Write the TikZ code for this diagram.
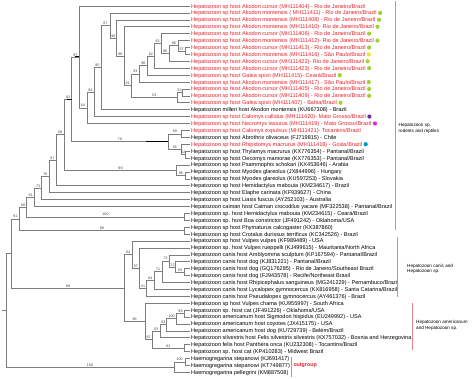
\documentclass[tikz,border=0pt]{standalone}
\usepackage{fontspec}
\setmainfont{Liberation Sans}
\usetikzlibrary{calc,positioning}
\definecolor{treeGray}{RGB}{125,125,125}
\definecolor{bsGray}{RGB}{60,60,60}
\definecolor{leafRed}{RGB}{230,32,40}
\definecolor{brkPink}{RGB}{228,130,145}
\definecolor{dotGreen}{RGB}{160,210,50}
\definecolor{dotYellow}{RGB}{240,228,40}
\definecolor{dotPurple}{RGB}{112,48,160}
\definecolor{dotMagenta}{RGB}{220,40,225}
\definecolor{dotBlue}{RGB}{0,150,220}
\begin{document}
\begin{tikzpicture}[x=1pt,y=-1pt,
  br/.style={treeGray, line width=0.5pt},
  hbr/.style={black, line width=1.1pt},
  leaf/.style={anchor=west, inner xsep=1pt, inner ysep=0pt, text height=4pt, text depth=0pt,
    label distance=1.4pt, font=\fontsize{5.55}{6.2}\selectfont},
  redleaf/.style={leaf, text=leafRed},
  dotst/.style={circle, inner sep=0pt, minimum size=4.2pt},
  gdot/.style={label={[dotst,fill=dotGreen]right:{}}},
  ydot/.style={label={[dotst,fill=dotYellow]right:{}}},
  pdot/.style={label={[dotst,fill=dotPurple]right:{}}},
  mdot/.style={label={[dotst,fill=dotMagenta]right:{}}},
  bdot/.style={label={[dotst,fill=dotBlue]right:{}}},
  bs/.style={pos=0.75, above, inner sep=0.6pt, text=bsGray, font=\fontsize{3.6}{4}\selectfont},
  brk/.style={brkPink, line width=0.6pt},
  note/.style={anchor=west, align=left, inner sep=0pt, font=\fontsize{4.6}{5.6}\selectfont}]
\useasboundingbox (0,0) rectangle (474,378);

% leaves
\node[redleaf] (l1) at (190,6.00) {Hepatozoon sp host Akodon cursor (MH111404) - Rio de Janeiro/Brazil};
\node[redleaf,gdot] (l2) at (190,12.91) {Hepatozoon sp host Akodon montensis ( MH111411) - Rio de Janeiro/Brazil};
\node[redleaf,gdot] (l3) at (190,19.82) {Hepatozoon sp host Akodon montensis (MH111408) - Rio de Janeiro/Brazil};
\node[redleaf,gdot] (l4) at (190,26.73) {Hepatozoon sp host Akodon montensis (MH111410)- Rio de Janeiro/Brazil};
\node[redleaf,gdot] (l5) at (190,33.64) {Hepatozoon sp host Akodon cursor (MH111406) - Rio de Janeiro/Brazil};
\node[redleaf,gdot] (l6) at (190,40.55) {Hepatozoon sp host Akodon montensis (MH111412)- Rio de Janeiro/Brazil};
\node[redleaf,gdot] (l7) at (190,47.46) {Hepatozoon sp host Akodon cursor (MH111413) - Rio de Janeiro/Brazil};
\node[redleaf,ydot] (l8) at (190,54.37) {Hepatozoon sp host Akodon montensis (MH111416) - São Paulo/Brazil};
\node[redleaf,gdot] (l9) at (190,61.28) {Hepatozoon sp host Akodon cursor (MH111422)- Rio de Janeiro/Brazil};
\node[redleaf,gdot] (l10) at (190,68.19) {Hepatozoon sp host Akodon cursor (MH111423) - Rio de Janeiro/Brazil};
\node[redleaf,gdot] (l11) at (190,75.10) {Hepatozoon sp host Galea spixii (MH111415)- Ceará/Brazil};
\node[redleaf,gdot] (l12) at (190,82.01) {Hepatozoon sp host Akodon montensis (MH111417) - São Paulo/Brazil};
\node[redleaf,gdot] (l13) at (190,88.92) {Hepatozoon sp host Akodon cursor (MH111405) - Rio de Janeiro/Brazil};
\node[redleaf,gdot] (l14) at (190,95.83) {Hepatozoon sp host Akodon cursor (MH111409) - Rio de Janeiro/Brazil};
\node[redleaf,gdot] (l15) at (190,102.74) {Hepatozoon sp host Galea spixii (MH111407) - Bahia/Brazil};
\node[leaf] (l16) at (190,109.65) {Hepatozoon milleri host Akodon montensis (KU667308) - Brazil};
\node[redleaf,pdot] (l17) at (190,116.56) {Hepatozoon sp host Calomys callidus (MH111420)- Mato Grosso/Brazil};
\node[redleaf,mdot] (l18) at (190,123.47) {Hepatozoon sp host Necromys lasiurus (MH111419) - Mato Grosso/Brazil};
\node[redleaf] (l19) at (190,130.38) {Hepatozoon sp host Calomys expulsus (MH111421)- Tocantins/Brazil};
\node[leaf] (l20) at (190,137.29) {Hepatozoon sp host Abrothrix olivaceus (FJ719815) - Chile};
\node[redleaf,bdot] (l21) at (190,144.20) {Hepatozoon sp host Rhipidomys macrurus (MH111418) - Goiás/Brazil};
\node[leaf] (l22) at (190,151.11) {Hepatozoon sp host Thylamys macrurus (KX776354) - Pantanal/Brazil};
\node[leaf] (l23) at (190,158.02) {Hepatozoon sp host Oecomys mamorae (KX776353) - Pantanal/Brazil};
\node[leaf] (l24) at (190,164.93) {Hepatozoon sp host Psammophis schokari (KX453646) - Arabia};
\node[leaf] (l25) at (190,171.84) {Hepatozoon sp host Myodes glareolus (JX844996) - Hungary};
\node[leaf] (l26) at (190,178.75) {Hepatozoon sp host Myodes glareolus (KU597253) - Slovakia};
\node[leaf] (l27) at (190,185.66) {Hepatozoon sp host Hemidactylus mabouia (KM234617) - Brazil};
\node[leaf] (l28) at (190,192.57) {Hepatozoon sp host Elaphe carinata (KF939627) - China};
\node[leaf] (l29) at (190,199.48) {Hepatozoon sp host Liasis fuscus (AY252103) - Australia};
\node[leaf] (l30) at (190,206.39) {Hepatozoon caiman host Caiman crocodilus yacare (MF322538) - Pantanal/Brazil};
\node[leaf] (l31) at (190,213.30) {Hepatozoon sp. host Hemidactylus mabouia (KM234615) - Ceará/Brazil};
\node[leaf] (l32) at (190,220.21) {Hepatozoon sp. host Boa constrictor (JF491242) - Oklahoma/USA};
\node[leaf] (l33) at (190,227.12) {Hepatozoon sp host Phymaturus calcogaster (KX387860)};
\node[leaf] (l34) at (190,234.03) {Hepatozoon sp host Crotalus durissus terrificus (KC342526) - Brazil};
\node[leaf] (l35) at (190,240.94) {Hepatozoon sp host Vulpes vulpes (KF989489) - USA};
\node[leaf] (l36) at (190,247.85) {Hepatozoon sp. host Vulpes rueppelli (KJ499615) - Mauritania/North Africa};
\node[leaf] (l37) at (190,254.76) {Hepatozoon canis host Amblyomma sculptum (KP167594) - Pantanal/Brazil};
\node[leaf] (l38) at (190,261.67) {Hepatozoon canis host dog (KJ831221) - Pantanal/Brazil};
\node[leaf] (l39) at (190,268.58) {Hepatozoon canis host dog (GQ176285) - Rio de Janeiro/Southeast Brazil};
\node[leaf] (l40) at (190,275.49) {Hepatozoon canis host dog (FJ943578) - Recife/Northeast Brasil};
\node[leaf] (l41) at (190,282.40) {Hepatozoon canis host Rhipicephalus sanguineus (MG241229) - Pernambuco/Brazil};
\node[leaf] (l42) at (190,289.31) {Hepatozoon canis host Lycalopex gymnocercus (KX816958) - Santa Catarina/Brazil};
\node[leaf] (l43) at (190,296.22) {Hepatozoon canis host Pseudalopex gymnocercus (AY461376) - Brazil};
\node[leaf] (l44) at (190,303.13) {Hepatozoon sp host Vulpes chama (KU955997) - South Africa};
\node[leaf] (l45) at (190,310.04) {Hepatozoon sp. host cat (JF491226) - Oklahoma/USA};
\node[leaf] (l46) at (190,316.95) {Hepatozoon americanum host Sigmodon hispidus (EU249992) - USA};
\node[leaf] (l47) at (190,323.86) {Hepatozoon americanum host coyotes (JX415175) - USA};
\node[leaf] (l48) at (190,330.77) {Hepatozoon americanum host dog (KU729739) - Belém/Brazil};
\node[leaf] (l49) at (190,337.68) {Hepatozoon silvestris host Felis silvestris silvestris (KX757032) - Bosnia and Herzegovina};
\node[leaf] (l50) at (190,344.59) {Hepatozoon felis host Panthera onca (KU232308) - Tocantins/Brazil};
\node[leaf] (l51) at (190,351.50) {Hepatozoon sp. host cat (KP410283) - Midwest Brazil};
\node[leaf] (l52) at (190,358.41) {Haemogregarina stepanowi (KJ691417)};
\node[leaf] (l53) at (190,365.32) {Haemogregarina stepanowi (KT749877)};
\node[leaf] (l54) at (190,372.23) {Haemogregarina pellegrini (KM887508)};

% internal nodes, rodent clade
\coordinate (nS) at (185,50.92);
\coordinate (nR) at (178.3,45.74);
\coordinate (nO) at (169.3,53.51);
\coordinate (nN) at (161,43.58);
\coordinate (nM) at (154.3,55.89);
\coordinate (nL) at (147.3,65.50);
\coordinate (nJ) at (139.3,73.76);
\coordinate (nKa) at (182,92.38);
\coordinate (nK) at (177,97.56);
\coordinate (nI) at (131.5,85.66);
\coordinate (nG) at (124,56.20);
\coordinate (nF) at (116.7,38.01);
\coordinate (nE) at (110,25.46);
\coordinate (nD) at (101,67.56);
\coordinate (nC) at (94,92.06);
\coordinate (nB) at (87,107.77);
\coordinate (nA) at (79,56.89);
\coordinate (nQa) at (181.5,133.84);
\coordinate (nQc) at (185,154.57);
\coordinate (nQb) at (181.5,149.39);
\coordinate (nQ) at (168.3,141.62);
\coordinate (nP) at (71.7,99.26);
\coordinate (nTa) at (185,175.30);
\coordinate (nT) at (176.7,170.12);
\coordinate (nU) at (64.3,134.69);
\coordinate (nV) at (56,160.18);
\coordinate (nW) at (49,176.38);
\coordinate (nX) at (41.7,187.93);
\coordinate (nY) at (34.7,197.16);
\coordinate (nZa) at (184.3,216.76);
\coordinate (nZ) at (26.7,206.96);
\coordinate (nZb) at (184.3,230.58);
\coordinate (nRt) at (19.3,218.77);
% canis and americanum clade
\coordinate (cN) at (184.3,272.04);
\coordinate (cM) at (175.7,266.86);
\coordinate (cL) at (169.3,260.81);
\coordinate (cK) at (162,271.61);
\coordinate (cJ) at (154,280.46);
\coordinate (cI) at (146.7,288.34);
\coordinate (cH) at (139.3,268.10);
\coordinate (cF) at (132.3,254.52);
\coordinate (aT) at (184.3,313.50);
\coordinate (aS) at (176.7,318.68);
\coordinate (aR) at (166.7,324.73);
\coordinate (aP) at (160,331.21);
\coordinate (aQ) at (184.3,348.05);
\coordinate (aO) at (152.3,339.63);
\coordinate (aG) at (145,321.38);
\coordinate (cE) at (124.3,287.95);
\coordinate (nIn) at (11.7,253.36);
\coordinate (hA) at (185,361.87);
\coordinate (hB) at (174,367.05);
\coordinate (root) at (6,310.21);
\coordinate (rootTip) at (1.7,310.21);

% branches
\draw[br] (nS) |- (l7.west) (nS) |- (l8.west);
\draw[br] (nR) |- (l6.west) (nR) |- node[bs]{57} (nS);
\draw[br] (nO) |- node[bs]{96} (nR) (nO) |- (l9.west);
\draw[br] (nN) |- (l5.west) (nN) |- node[bs]{86} (nO);
\draw[br] (nM) |- node[bs]{62} (nN) (nM) |- (l10.west);
\draw[br] (nL) |- node[bs]{62} (nM) (nL) |- (l11.west);
\draw[br] (nJ) |- node[bs]{90} (nL) (nJ) |- (l12.west);
\draw[br] (nKa) |- (l13.west) (nKa) |- (l14.west);
\draw[br] (nK) |- node[bs]{53} (nKa) (nK) |- (l15.west);
\draw[br] (nI) |- node[bs]{53} (nJ) (nI) |- node[bs]{53} (nK);
\draw[br] (nG) |- (l4.west) (nG) |- node[bs]{91} (nI);
\draw[br] (nF) |- (l3.west) (nF) |- node[bs]{86} (nG);
\draw[br] (nE) |- (l2.west) (nE) |- node[bs]{90} (nF);
\draw[br] (nD) |- node[bs]{87} (nE) (nD) |- (l16.west);
\draw[br] (nC) |- node[bs]{95} (nD) (nC) |- (l17.west);
\draw[br] (nB) |- node[bs]{94} (nC) (nB) |- (l18.west);
\draw[br] (nA) |- (l1.west) (nA) |- node[bs]{64} (nB);
\draw[br] (nQa) |- (l19.west) (nQa) |- (l20.west);
\draw[br] (nQc) |- (l22.west) (nQc) |- (l23.west);
\draw[br] (nQb) |- (l21.west) (nQb) |- node[bs]{62} (nQc);
\draw[br] (nQ) |- node[bs]{59} (nQa) (nQ) |- node[bs]{55} (nQb);
\draw[br] (nP) |- node[bs]{97} (nA) (nP) |- node[bs]{76} (nQ);
\draw[br] (nTa) |- (l25.west) (nTa) |- (l26.west);
\draw[br] (nT) |- (l24.west) (nT) |- node[bs]{96} (nTa);
\draw[br] (nU) |- node[bs]{92} (nP) (nU) |- node[bs]{99} (nT);
\draw[br] (nV) |- node[bs]{58} (nU) (nV) |- (l27.west);
\draw[br] (nW) |- node[bs]{87} (nV) (nW) |- (l28.west);
\draw[br] (nX) |- node[bs]{76} (nW) (nX) |- (l29.west);
\draw[br] (nY) |- node[bs]{73} (nX) (nY) |- (l30.west);
\draw[br] (nZa) |- (l31.west) (nZa) |- (l32.west);
\draw[br] (nZ) |- node[bs]{91} (nY) (nZ) |- node[bs]{100} (nZa);
\draw[br] (nZb) |- (l33.west) (nZb) |- (l34.west);
\draw[br] (nRt) |- node[bs]{88} (nZ) (nRt) |- node[bs]{99} (nZb);
\draw[br] (cN) |- (l39.west) (cN) |- (l40.west);
\draw[br] (cM) |- (l38.west) (cM) |- node[bs]{93} (cN);
\draw[br] (cL) |- (l37.west) (cL) |- node[bs]{72} (cM);
\draw[br] (cK) |- node[bs]{72} (cL) (cK) |- (l41.west);
\draw[br] (cJ) |- node[bs]{71} (cK) (cJ) |- (l42.west);
\draw[br] (cI) |- node[bs]{64} (cJ) (cI) |- (l43.west);
\draw[br] (cH) |- (l36.west) (cH) |- node[bs]{31} (cI);
\draw[br] (cF) |- (l35.west) (cF) |- node[bs]{57} (cH);
\draw[br] (aT) |- (l45.west) (aT) |- (l46.west);
\draw[br] (aS) |- node[bs]{99} (aT) (aS) |- (l47.west);
\draw[br] (aR) |- node[bs]{100} (aS) (aR) |- (l48.west);
\draw[br] (aP) |- node[bs]{63} (aR) (aP) |- (l49.west);
\draw[br] (aQ) |- (l50.west) (aQ) |- (l51.west);
\draw[br] (aO) |- node[bs]{53} (aP) (aO) |- node[bs]{62} (aQ);
\draw[br] (aG) |- (l44.west) (aG) |- node[bs]{87} (aO);
\draw[br] (cE) |- node[bs]{64} (cF) (cE) |- node[bs]{86} (aG);
\draw[br] (nIn) |- node[bs]{91} (nRt) (nIn) |- node[bs]{89} (cE);
\draw[br] (hA) |- (l52.west) (hA) |- (l53.west);
\draw[br] (hB) |- node[bs]{100} (hA) (hB) |- (l54.west);
\draw[br] (root) |- (nIn) (root) |- node[bs]{100} (hB);
\draw[br] (rootTip) -- (root);

% heavy branches
\draw[hbr] ($(nA)+(-4,0)$) -- (nA);
\draw[hbr] ($(nP)+(-4.5,0)$) -- (nP);
\draw[hbr] ($(nQ)+(-22,0)$) -- (nQ);

% group brackets
\draw[brk] (395,1) -- (395,230);
\node[note] (rodNote) at (398.5,128.5) {Hepatozoon sp.\\rodents and reptiles};
\draw[brk] (397,237) -- (397,297);
\node[note] (canNote) at (407,269) {Hepatozoon canis and\\Hepatozoon sp.};
\draw[brk] (412,303) -- (412,350);
\node[note] (amNote) at (416,325.5) {Hepatozoon americanum\\and Hepatozoon sp.};
\draw[brk] (291,356.7) -- (291,376.7);
\node[anchor=west, inner sep=0pt, text=leafRed, font=\fontsize{5.3}{6}\selectfont\bfseries] (outNote) at (293.3,365.7) {outgroup};
\end{tikzpicture}
\end{document}
